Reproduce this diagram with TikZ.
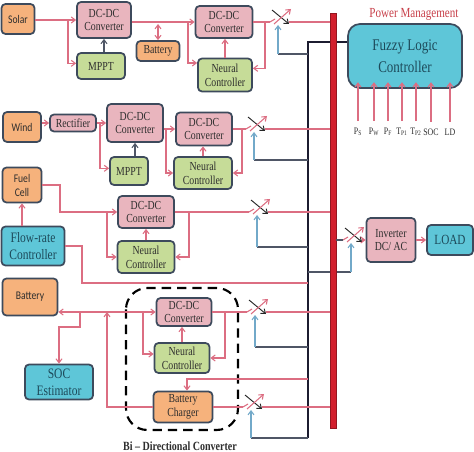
\documentclass[tikz,border=0pt]{standalone}
\usepackage{fontspec}
\setmainfont{Liberation Serif}[FakeStretch=0.8]
\newfontfamily\sansf{Carlito}[FakeStretch=0.82]
\usetikzlibrary{arrows.meta}
\definecolor{bord}{HTML}{3D4A5C}
\definecolor{orf}{HTML}{F6B27C}
\definecolor{pkf}{HTML}{E9B5BE}
\definecolor{grf}{HTML}{C6DC98}
\definecolor{cyf}{HTML}{5EC6D8}
\definecolor{lred}{HTML}{DC6E82}
\definecolor{bluea}{HTML}{72A9C9}
\definecolor{ctlc}{HTML}{4F5666}
\definecolor{navy}{HTML}{1C1C30}
\definecolor{busred}{HTML}{D21F2D}
\definecolor{tealtx}{HTML}{1D4A5A}
\definecolor{pmred}{HTML}{C8404A}
\definecolor{txt}{HTML}{2E2E2E}
\newcommand\drawswitch[4]{%
  \coordinate (#1in) at (#2,#3);
  \coordinate (#1out) at (#2+19,#3);
  \coordinate (#1ctl) at (#2+8,#3+3);
  \coordinate (#1b) at (#2+8,#4);
  \draw[conn] (#1in) -- ++(5,-3);
  \draw[swblk,->] (#2+2,#3-12) -- (#2+19,#3+2);
  \draw[conn,->] (#2+4,#3+2) -- (#2+21,#3-13);
}
\begin{document}
\begin{tikzpicture}[x=0.75pt,y=-0.75pt,
  >={Straight Barb[length=3pt,width=4.5pt]},
  sz/.style 2 args={minimum width=#1*0.75pt, minimum height=#2*0.75pt},
  box/.style={draw=bord, line width=1.3pt, rounded corners=3pt, align=center,
    inner sep=0pt, text=txt, font=\fontsize{9.2}{10.4}\selectfont},
  orbox/.style={box, fill=orf},
  pkbox/.style={box, fill=pkf},
  grbox/.style={box, fill=grf},
  cybox/.style={box, fill=cyf, text=tealtx},
  sans/.style={font=\sansf\fontsize{8.8}{10.5}\selectfont},
  conn/.style={draw=lred, line width=0.8pt},
  dark/.style={draw=ctlc, line width=0.8pt},
  swblk/.style={draw=black!85, line width=0.7pt},
  bluear/.style={draw=bluea, line width=0.8pt},
  ctlline/.style={draw=ctlc, line width=0.8pt},
  inlab/.style={inner sep=0pt, text=txt, font=\fontsize{7.4}{8}\selectfont}
]
\useasboundingbox (0,0) rectangle (474,452);
\fill[white] (0,0) rectangle (474,452);

% ---- solar row
\node[orbox,sans,sz={33}{30}] (solar) at (18,19) {Solar};
\node[pkbox,sz={54}{36}] (dc1) at (104,20) {DC-DC\\Converter};
\node[grbox,sz={48}{26}] (mppt1) at (101,66) {MPPT};
\node[orbox,sz={43}{20}] (batt1) at (158,51) {Battery};
\node[pkbox,sz={57}{32}] (dc2) at (224,22) {DC-DC\\Converter};
\node[grbox,sz={54}{33}] (nc1) at (225,75) {Neural\\Controller};

% ---- FLC
\node[cybox,sz={114}{64},rounded corners=9pt,font=\fontsize{12.2}{16.5}\selectfont] (flc) at (405,56) {Fuzzy Logic\\Controller};
\node[inner sep=0pt,text=pmred,font=\fontsize{10.4}{12}\selectfont] (pm) at (414,14) {Power Management};
\node[inlab] (i1) at (358,132) {P\textsubscript{S}};
\node[inlab] (i2) at (374,132) {P\textsubscript{W}};
\node[inlab] (i3) at (388,132) {P\textsubscript{F}};
\node[inlab] (i4) at (402,132) {T\textsubscript{P1}};
\node[inlab] (i5) at (416,132) {T\textsubscript{P2}};
\node[inlab] (i6) at (431,132) {SOC};
\node[inlab] (i7) at (450,132) {LD};
\foreach \i in {1,...,7}{
  \draw[conn,->] ([yshift=5pt]i\i.north) -- ([yshift=5pt]i\i.north |- flc.south);
}

% ---- wind row
\node[orbox,sans,sz={38}{30}] (wind) at (22,127) {Wind};
\node[pkbox,sz={46}{17}] (rect) at (73,123) {Rectifier};
\node[pkbox,sz={56}{38}] (dc3) at (135,123) {DC-DC\\Converter};
\node[grbox,sz={38}{28}] (mppt2) at (129,171) {MPPT};
\node[pkbox,sz={56}{33}] (dc4) at (204,129) {DC-DC\\Converter};
\node[grbox,sz={58}{32}] (nc2) at (203,173) {Neural\\Controller};

% ---- fuel row
\node[orbox,sans,sz={39}{35}] (fuel) at (22,185) {Fuel\\Cell};
\node[cybox,sz={63}{39},font=\fontsize{10.8}{13}\selectfont] (flow) at (33,246) {Flow-rate\\Controller};
\node[pkbox,sz={56}{32}] (dc5) at (146,212) {DC-DC\\Converter};
\node[grbox,sz={57}{32}] (nc3) at (146,257) {Neural\\Controller};

% ---- inverter / load
\node[pkbox,sz={49}{44}] (inv) at (391,240) {Inverter\\DC/ AC};
\node[cybox,sz={46}{30},font=\fontsize{10.5}{12}\selectfont] (load) at (450,240) {LOAD};

% ---- battery row
\node[orbox,sans,sz={55}{37}] (batt2) at (30,297) {Battery};
\node[cybox,sz={68}{35},font=\fontsize{10.8}{13}\selectfont] (soc) at (59,382) {SOC\\Estimator};
\node[pkbox,sz={55}{28}] (dc6) at (184,312) {DC-DC\\Converter};
\node[grbox,sz={55}{30}] (nc4) at (182,358) {Neural\\Controller};
\node[orbox,sz={59}{31}] (chg) at (183,407) {Battery\\Charger};
\draw[black, line width=1.6pt, dash pattern=on 7pt off 4.5pt, rounded corners=16pt] (126,288) rectangle (238,430);
\node[inner sep=0pt,text=txt,font=\bfseries\fontsize{9.4}{10}\selectfont] (bilab) at (180,446) {Bi -- Directional Converter};

% ---- switches
\drawswitch{sa}{270}{22}{54}
\drawswitch{sb}{246}{129}{160}
\drawswitch{sc}{249}{212}{247}
\drawswitch{sd}{247}{312}{347}
\drawswitch{se}{243}{407}{438}
\drawswitch{si}{343}{240}{272}

% ---- control line
\coordinate (ctop) at (308,42);
\coordinate (cbot) at (308,438);
\draw[navy, line width=1pt] (flc.west |- ctop) -- (ctop) -- (cbot);
\foreach \s in {sa,sb,sc,sd,se,si}{
  \draw[ctlline] (\s b -| ctop) -- (\s b);
  \draw[bluear,->] (\s b) -- (\s ctl);
}

% ---- solar connections
\draw[conn,->] (solar.east |- dc1.west) -- (dc1.west);
\coordinate (j1) at (68,20);
\draw[conn,->] (j1) |- ([yshift=2pt]mppt1.west);
\draw[dark,->] (dc1.south |- mppt1.north) -- (dc1.south);
\draw[conn,->] (dc1.east |- dc2.west) -- (dc2.west);
\coordinate (j2) at (188,22);
\draw[conn,->] (j2) |- ([yshift=9pt]nc1.west);
\draw[conn,<->] (batt1.north |- 0,24) -- (batt1.north);
\draw[conn,->] (nc1.north) -- (nc1.north |- dc2.south);
\draw[conn] (dc2.east) -- (sain);
\coordinate (j3) at (265,22);
\draw[conn,->] (j3) |- ([yshift=5pt]nc1.east);

% ---- wind connections
\draw[conn,->] (wind.east |- rect.west) -- (rect.west);
\draw[conn,->] (rect.east) -- (dc3.west);
\coordinate (j4) at (100,123);
\draw[conn,->] (j4) |- ([yshift=2pt]mppt2.west);
\draw[dark,->] (dc3.south |- mppt2.north) -- (dc3.south);
\draw[conn,->] (dc3.east |- dc4.west) -- (dc4.west);
\coordinate (j5) at (166,129);
\draw[conn,->] (j5) |- (nc2.west);
\draw[conn,->] (nc2.north) -- (nc2.north |- dc4.south);
\draw[conn] (dc4.east) -- (sbin);
\coordinate (j6) at (242,129);
\draw[conn,->] (j6) |- (nc2.east);

% ---- fuel connections
\draw[conn,->] (fuel.south |- flow.north) -- (fuel.south);
\coordinate (j7) at (60,185);
\draw[conn,->] (fuel.east) -- (j7) |- (dc5.west);
\coordinate (j8) at (107,212);
\draw[conn,->] (j8) |- (nc3.west);
\draw[conn,->] (nc3.north) -- (dc5.south);
\draw[conn] (dc5.east) -- (scin);
\coordinate (j9) at (189,212);
\draw[conn,->] (j9) |- (nc3.east);
\coordinate (j10) at (82,283);
\draw[conn] (flow.east) -| (j10) -- (j10 -| ctop);

% ---- battery connections
\draw[conn,<->] (batt2.east |- dc6.west) -- (dc6.west);
\coordinate (j11) at (80,312);
\coordinate (j12) at (80,327);
\draw[conn,->] (j11) -- (j12) -| (soc.north);
\coordinate (j13) at (107,312);
\draw[conn,->] (chg.west) -| (j13);
\coordinate (j14) at (143,312);
\draw[conn,->] (j14) |- ([yshift=3pt]nc4.west);
\draw[conn,->] (nc4.north) -- (nc4.north |- dc6.south);
\draw[conn] (dc6.east) -- (sdin);
\coordinate (j15) at (225,312);
\draw[conn,->] (j15) |- (nc4.east);
\coordinate (j16) at (187,379);
\draw[conn,->] (j16 -| ctop) -- (j16) -- (j16 |- chg.north);
\draw[conn] (chg.east) -- (sein);

% ---- bus
\node[fill=busred, draw=busred!70!black, line width=0.4pt, inner sep=0pt,
  minimum width=6*0.75pt, minimum height=415*0.75pt] (bus) at (333,220.5) {};
\foreach \s in {sa,sb,sc,sd,se}{
  \draw[conn] (\s out) -- (\s out -| bus.west);
}
\draw[ctlline] (bus.east |- siin) -- (siin);
\draw[conn,->] (siout) -- (inv.west |- siout);
\draw[conn,->] (inv.east) -- (load.west);
\end{tikzpicture}
\end{document}
